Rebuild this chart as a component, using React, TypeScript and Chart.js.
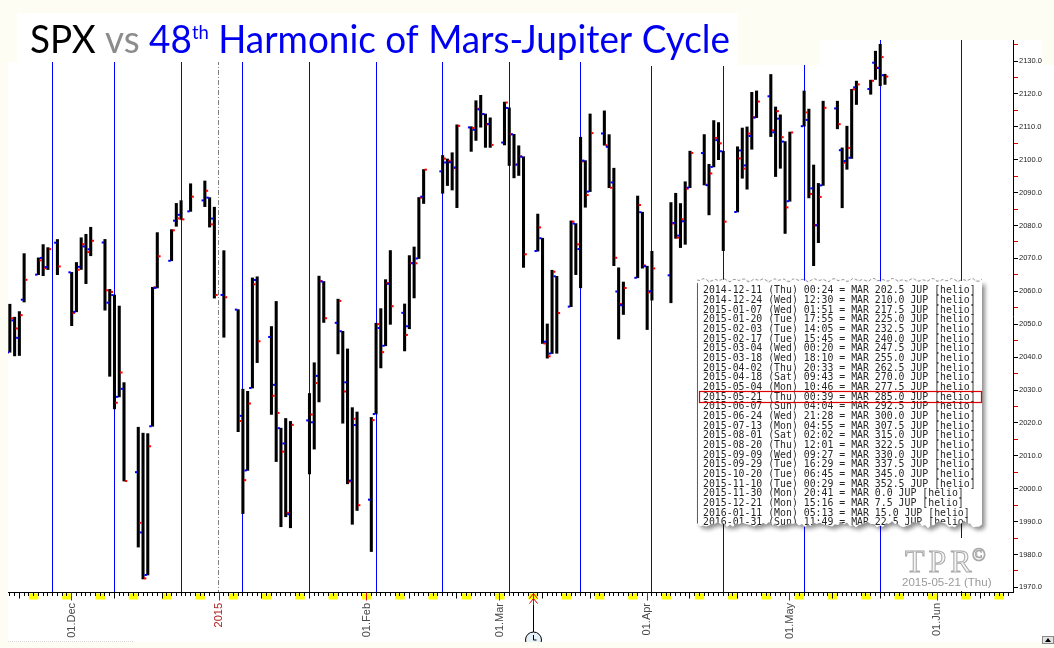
import React, { useEffect, useRef } from 'react';
import { Chart, registerables } from 'chart.js';

Chart.register(...registerables);

// ---------------- data ----------------
const originDate = '2014-12-01';
const xRangeDays = [-13.39, 197.92];
const yRange = [1968.6, 2136.4];
const yStep = 5;

const barDates = [
  '2014-11-17', '2014-11-18', '2014-11-19', '2014-11-20', '2014-11-21', '2014-11-24', '2014-11-25', '2014-11-26', '2014-11-28',
  '2014-12-01', '2014-12-02', '2014-12-03', '2014-12-04', '2014-12-05', '2014-12-08', '2014-12-09', '2014-12-10', '2014-12-11',
  '2014-12-12', '2014-12-15', '2014-12-16', '2014-12-17', '2014-12-18', '2014-12-19', '2014-12-22', '2014-12-23', '2014-12-24',
  '2014-12-26', '2014-12-29', '2014-12-30', '2014-12-31',
  '2015-01-02', '2015-01-05', '2015-01-06', '2015-01-07', '2015-01-08', '2015-01-09', '2015-01-12', '2015-01-13', '2015-01-14',
  '2015-01-15', '2015-01-16', '2015-01-20', '2015-01-21', '2015-01-22', '2015-01-23', '2015-01-26', '2015-01-27', '2015-01-28',
  '2015-01-29', '2015-01-30',
  '2015-02-02', '2015-02-03', '2015-02-04', '2015-02-05', '2015-02-06', '2015-02-09', '2015-02-10', '2015-02-11', '2015-02-12',
  '2015-02-13', '2015-02-17', '2015-02-18', '2015-02-19', '2015-02-20', '2015-02-23', '2015-02-24', '2015-02-25', '2015-02-26',
  '2015-02-27',
  '2015-03-02', '2015-03-03', '2015-03-04', '2015-03-05', '2015-03-06', '2015-03-09', '2015-03-10', '2015-03-11', '2015-03-12',
  '2015-03-13', '2015-03-16', '2015-03-17', '2015-03-18', '2015-03-19', '2015-03-20', '2015-03-23', '2015-03-24', '2015-03-25',
  '2015-03-26', '2015-03-27', '2015-03-30', '2015-03-31',
  '2015-04-01', '2015-04-02', '2015-04-06', '2015-04-07', '2015-04-08', '2015-04-09', '2015-04-10', '2015-04-13', '2015-04-14',
  '2015-04-15', '2015-04-16', '2015-04-17', '2015-04-20', '2015-04-21', '2015-04-22', '2015-04-23', '2015-04-24', '2015-04-27',
  '2015-04-28', '2015-04-29', '2015-04-30',
  '2015-05-01', '2015-05-04', '2015-05-05', '2015-05-06', '2015-05-07', '2015-05-08', '2015-05-11', '2015-05-12', '2015-05-13',
  '2015-05-14', '2015-05-15', '2015-05-18', '2015-05-19', '2015-05-20', '2015-05-21',
];

const opens = [
  2038.29, 2041.48, 2051.16, 2045.87, 2057.46, 2065.07, 2070.15, 2067.36, 2074.78,
  2065.78, 2053.77, 2067.45, 2073.64, 2072.78, 2074.84, 2056.55, 2058.86, 2027.92, 2030.36, 2005.03, 1986.71, 1973.77, 2018.98,
  2061.04, 2069.28, 2081.48, 2083.25, 2084.30, 2087.63, 2088.49, 2082.11,
  2058.90, 2054.44, 2022.15, 2005.55, 2030.61, 2063.45, 2046.13, 2031.58, 2018.40, 2013.75, 1992.25, 2020.76, 2020.19, 2034.30,
  2062.98, 2050.42, 2047.86, 2032.34, 2002.45, 2019.35,
  1996.67, 2022.71, 2048.86, 2043.45, 2062.28, 2053.47, 2049.38, 2068.55, 2069.98, 2088.78, 2096.47, 2099.16, 2099.25, 2097.65,
  2109.83, 2109.10, 2115.30, 2113.91, 2110.88,
  2105.23, 2115.76, 2107.72, 2098.54, 2100.91, 2072.25, 2076.14, 2044.69, 2041.10, 2064.56, 2055.35, 2080.59, 2072.84, 2099.73,
  2090.32, 2107.99, 2103.94, 2093.10, 2059.94, 2055.78, 2064.11, 2084.05,
  2067.63, 2060.03, 2064.87, 2080.79, 2076.94, 2081.29, 2091.51, 2102.03, 2092.28, 2097.82, 2105.96, 2102.58, 2084.11, 2102.82,
  2098.27, 2107.21, 2112.80, 2119.29, 2108.35, 2112.49, 2105.52,
  2087.38, 2110.2, 2112.1, 2091.3, 2080.1, 2092.2, 2115.6, 2102.9, 2099.6, 2100.6, 2122.0, 2121.5, 2129.5, 2127.9, 2125.7,
];

const highs = [
  2043.07, 2056.08, 2052.14, 2053.84, 2071.46, 2070.17, 2074.21, 2073.29, 2075.76,
  2065.78, 2068.77, 2076.28, 2077.34, 2079.47, 2075.78, 2060.60, 2058.86, 2055.53, 2032.25, 2018.69, 2016.89, 2016.75, 2061.23,
  2077.85, 2078.76, 2086.73, 2087.56, 2092.70, 2093.55, 2088.49, 2085.58,
  2072.36, 2054.44, 2030.25, 2029.61, 2064.08, 2064.43, 2049.30, 2056.93, 2018.40, 2021.35, 2020.46, 2028.94, 2038.29, 2064.62,
  2062.98, 2057.62, 2047.86, 2042.49, 2024.64, 2023.32,
  2021.66, 2050.30, 2054.74, 2063.55, 2072.40, 2056.16, 2070.86, 2073.48, 2088.53, 2097.03, 2101.30, 2100.23, 2102.13, 2110.61,
  2110.05, 2117.94, 2119.59, 2113.91, 2112.74,
  2117.52, 2115.76, 2107.72, 2104.25, 2100.91, 2083.49, 2076.14, 2050.08, 2066.41, 2064.56, 2081.41, 2080.59, 2106.85, 2099.73,
  2113.92, 2114.86, 2107.63, 2097.43, 2067.15, 2062.83, 2088.97, 2084.05,
  2067.63, 2072.17, 2086.99, 2089.81, 2086.69, 2093.31, 2102.61, 2107.65, 2098.62, 2111.91, 2111.30, 2102.58, 2103.94, 2109.64,
  2109.98, 2120.49, 2120.92, 2125.92, 2116.04, 2113.65, 2105.52,
  2108.41, 2120.9, 2115.4, 2098.4, 2092.8, 2117.8, 2117.8, 2103.6, 2110.2, 2121.4, 2123.9, 2124.2, 2133.0, 2135.1, 2126.0,
];

const lows = [
  2030.17, 2041.48, 2040.37, 2040.49, 2056.75, 2065.07, 2064.75, 2066.62, 2065.06,
  2049.57, 2053.77, 2066.65, 2062.34, 2070.81, 2054.27, 2034.17, 2024.26, 2027.92, 2002.33, 1982.26, 1972.56, 1973.77, 2018.98,
  2061.03, 2069.28, 2079.77, 2081.86, 2084.30, 2085.75, 2079.53, 2057.94,
  2046.04, 2017.34, 1992.44, 2005.55, 2030.61, 2038.33, 2022.58, 2008.25, 1988.44, 1991.47, 1988.12, 2004.49, 2012.04, 2026.38,
  2050.54, 2040.97, 2019.91, 2001.49, 1989.18, 1993.38,
  1980.90, 2022.71, 2036.72, 2043.45, 2049.97, 2041.88, 2048.62, 2057.99, 2069.98, 2086.70, 2089.80, 2092.15, 2090.79, 2085.44,
  2102.54, 2105.87, 2109.89, 2103.76, 2103.75,
  2104.50, 2098.26, 2094.49, 2095.22, 2067.27, 2072.21, 2044.16, 2039.69, 2041.10, 2041.17, 2055.35, 2065.08, 2061.08, 2085.56,
  2090.32, 2104.42, 2091.50, 2067.8, 2045.50, 2052.96, 2064.11, 2067.04,
  2048.38, 2057.32, 2056.52, 2076.10, 2073.30, 2074.29, 2091.51, 2092.33, 2083.24, 2097.82, 2100.02, 2072.37, 2084.11, 2094.38,
  2091.05, 2103.19, 2112.80, 2107.04, 2094.89, 2097.41, 2077.59,
  2087.38, 2110.2, 2088.4, 2067.8, 2074.8, 2092.2, 2109.4, 2085.4, 2097.1, 2100.4, 2116.8, 2119.9, 2124.4, 2122.5, 2122.9,
];

const closes = [
  2041.32, 2051.80, 2048.72, 2052.75, 2063.50, 2069.41, 2067.03, 2072.83, 2067.56,
  2053.44, 2066.55, 2074.33, 2071.92, 2075.37, 2060.31, 2059.82, 2026.14, 2035.33, 2002.33, 1989.63, 1972.74, 2012.89, 2061.23,
  2070.65, 2078.54, 2082.17, 2081.88, 2088.77, 2090.57, 2080.35, 2058.90,
  2058.20, 2020.58, 2002.61, 2025.90, 2062.14, 2044.81, 2028.26, 2023.03, 2011.27, 1992.67, 2019.42, 2022.55, 2032.12, 2063.15,
  2051.82, 2057.09, 2029.55, 2002.16, 2021.25, 1994.99,
  2020.85, 2050.03, 2041.51, 2062.52, 2055.47, 2046.74, 2068.59, 2068.53, 2088.48, 2096.99, 2100.34, 2099.68, 2097.45, 2110.30,
  2109.66, 2115.48, 2113.86, 2110.74, 2104.50,
  2117.39, 2107.78, 2098.53, 2101.04, 2071.26, 2079.43, 2044.16, 2040.24, 2065.95, 2053.40, 2081.19, 2074.28, 2099.50, 2089.27,
  2108.10, 2104.42, 2091.50, 2070.2, 2056.15, 2061.02, 2086.24, 2067.89,
  2059.69, 2066.96, 2080.62, 2076.33, 2081.90, 2091.18, 2102.06, 2092.43, 2095.84, 2106.63, 2104.99, 2081.18, 2100.40, 2097.29,
  2107.96, 2112.93, 2117.69, 2108.92, 2114.76, 2106.85, 2085.51,
  2108.29, 2114.4, 2089.6, 2080.1, 2088.7, 2115.8, 2110.8, 2099.1, 2103.6, 2121.4, 2122.9, 2124.0, 2128.0, 2131.2, 2125.3,
];

// 48th harmonic Mars-Jupiter dates (vertical blue lines)
const cycleLineDates = [
  '2014-11-27', '2014-12-10', '2014-12-24', '2015-01-06', '2015-01-20', '2015-02-03', '2015-02-17',
  '2015-03-03', '2015-03-18', '2015-04-02', '2015-04-17', '2015-05-04', '2015-05-20', '2015-06-06',
];
const yearStartDate = '2015-01-01';
const dstDate = '2015-03-08';

const monthTickDates = ['2014-12-01', '2015-01-01', '2015-02-01', '2015-03-01', '2015-04-01', '2015-05-01', '2015-06-01'];
const monthTickLabels = ['01.Dec', '2015', '01.Feb', '01.Mar', '01.Apr', '01.May', '01.Jun'];

const tableRows = [
  '2014-12-11 (Thu) 00:24 = MAR 202.5 JUP [helio]',
  '2014-12-24 (Wed) 12:30 = MAR 210.0 JUP [helio]',
  '2015-01-07 (Wed) 01:51 = MAR 217.5 JUP [helio]',
  '2015-01-20 (Tue) 17:55 = MAR 225.0 JUP [helio]',
  '2015-02-03 (Tue) 14:05 = MAR 232.5 JUP [helio]',
  '2015-02-17 (Tue) 15:45 = MAR 240.0 JUP [helio]',
  '2015-03-04 (Wed) 00:20 = MAR 247.5 JUP [helio]',
  '2015-03-18 (Wed) 18:10 = MAR 255.0 JUP [helio]',
  '2015-04-02 (Thu) 20:33 = MAR 262.5 JUP [helio]',
  '2015-04-18 (Sat) 09:43 = MAR 270.0 JUP [helio]',
  '2015-05-04 (Mon) 10:46 = MAR 277.5 JUP [helio]',
  '2015-05-21 (Thu) 00:39 = MAR 285.0 JUP [helio]',
  '2015-06-07 (Sun) 04:04 = MAR 292.5 JUP [helio]',
  '2015-06-24 (Wed) 21:28 = MAR 300.0 JUP [helio]',
  '2015-07-13 (Mon) 04:55 = MAR 307.5 JUP [helio]',
  '2015-08-01 (Sat) 02:02 = MAR 315.0 JUP [helio]',
  '2015-08-20 (Thu) 12:01 = MAR 322.5 JUP [helio]',
  '2015-09-09 (Wed) 09:27 = MAR 330.0 JUP [helio]',
  '2015-09-29 (Tue) 16:29 = MAR 337.5 JUP [helio]',
  '2015-10-20 (Tue) 06:45 = MAR 345.0 JUP [helio]',
  '2015-11-10 (Tue) 00:29 = MAR 352.5 JUP [helio]',
  '2015-11-30 (Mon) 20:41 = MAR 0.0 JUP [helio]',
  '2015-12-21 (Mon) 15:16 = MAR 7.5 JUP [helio]',
  '2016-01-11 (Mon) 05:13 = MAR 15.0 JUP [helio]',
  '2016-01-31 (Sun) 11:49 = MAR 22.5 JUP [helio]',
];
const highlightRowIndex = 11;

const titleParts = [
  { text: 'SPX', color: '#000000', sup: false },
  { text: ' vs ', color: '#8c8c8c', sup: false },
  { text: '48', color: '#0000f0', sup: false },
  { text: 'th', color: '#0000f0', sup: true },
  { text: ' Harmonic of Mars-Jupiter Cycle', color: '#0000f0', sup: false },
];
const stampMark = 'TPR';
const stampText = '2015-05-21 (Thu)';

// ---------------- helpers ----------------
const CREAM = '#fdfdf3';
const MS_DAY = 86400000;
function utcOf(s: string) {
  const [y, m, d] = s.split('-').map(Number);
  return Date.UTC(y, m - 1, d);
}
const ORIGIN = utcOf(originDate);
function dayOf(s: string) {
  return Math.round((utcOf(s) - ORIGIN) / MS_DAY);
}

const ROW_Y0 = 290.8;
const ROW_H = 9.67;

const decorPlugin = {
  id: 'decor',
  beforeDraw(chart: any) {
    const { ctx, chartArea: ca } = chart;
    ctx.save();
    ctx.fillStyle = CREAM;
    ctx.fillRect(0, 0, chart.width, chart.height);
    ctx.fillStyle = '#ffffff';
    ctx.fillRect(ca.left, ca.top, chart.width - ca.left, 642 - ca.top);
    ctx.restore();
  },
  beforeDatasetsDraw(chart: any) {
    const { ctx, chartArea: ca, scales } = chart;
    const x = scales.x;
    ctx.save();
    ctx.beginPath();
    ctx.rect(ca.left, ca.top, ca.right - ca.left, ca.bottom - ca.top);
    ctx.clip();
    ctx.strokeStyle = '#0000ff';
    ctx.lineWidth = 1;
    cycleLineDates.forEach((d) => {
      const px = Math.floor(x.getPixelForValue(dayOf(d))) + 0.5;
      ctx.beginPath();
      ctx.moveTo(px, ca.top);
      ctx.lineTo(px, ca.bottom);
      ctx.stroke();
    });
    const yp = Math.floor(x.getPixelForValue(dayOf(yearStartDate))) - 0.5;
    ctx.strokeStyle = '#808080';
    ctx.setLineDash([5, 2, 1, 2]);
    ctx.beginPath();
    ctx.moveTo(yp, ca.top);
    ctx.lineTo(yp, ca.bottom);
    ctx.stroke();
    ctx.restore();
  },
  afterDatasetsDraw(chart: any) {
    const { ctx, chartArea: ca, scales } = chart;
    const x = scales.x;
    const y = scales.y;

    // open / close ticks
    ctx.save();
    ctx.beginPath();
    ctx.rect(ca.left, ca.top, ca.right - ca.left, ca.bottom - ca.top);
    ctx.clip();
    barDates.forEach((d, i) => {
      const px = x.getPixelForValue(dayOf(d));
      ctx.fillStyle = '#0000ff';
      ctx.fillRect(px - 3.3, y.getPixelForValue(opens[i]) - 1, 2.4, 2);
      ctx.fillStyle = '#ff0000';
      ctx.fillRect(px + 0.9, y.getPixelForValue(closes[i]) - 1, 2.4, 2);
    });
    ctx.restore();

    // header patches
    ctx.save();
    ctx.fillStyle = CREAM;
    ctx.fillRect(ca.left, ca.top, 9, 22);
    ctx.fillRect(738, ca.top, 82, 25);
    ctx.fillRect(1042, ca.top, 12, 25);
    ctx.fillStyle = '#ffffff';
    ctx.fillRect(17, 13, 721, 49);
    ctx.fillRect(600, 40, 138, 26);
    ctx.restore();

    // title
    ctx.save();
    const mainFont = '38px Lato, "Open Sans", sans-serif';
    const supFont = '19px Lato, "Open Sans", sans-serif';
    let total = 0;
    const widths: number[] = [];
    titleParts.forEach((p) => {
      ctx.font = p.sup ? supFont : mainFont;
      const w = ctx.measureText(p.text).width;
      widths.push(w);
      total += w;
    });
    const sx = (731 - 31) / total;
    ctx.translate(30, 0);
    ctx.scale(sx, 1);
    let tx = 0;
    ctx.textBaseline = 'alphabetic';
    titleParts.forEach((p, i) => {
      ctx.font = p.sup ? supFont : mainFont;
      ctx.fillStyle = p.color;
      ctx.fillText(p.text, tx, p.sup ? 38.5 : 52.5);
      tx += widths[i];
    });
    ctx.restore();

    // table (torn paper)
    const L = 697, R = 982, T = 281, B = 524.5;
    const jagTop = (k: number) => 1.2 * Math.sin(k * 1.9) + 0.7 * Math.sin(k * 5.3);
    const jagBot = (k: number) => 2.0 * Math.sin(k * 0.77) + 1.3 * Math.sin(k * 2.9) + 0.8 * Math.sin(k * 7.1);
    const path = () => {
      ctx.beginPath();
      ctx.moveTo(L, T + jagTop(0));
      for (let xx = L, k = 0; xx <= R; xx += 3, k++) ctx.lineTo(xx, T + jagTop(k));
      ctx.lineTo(R, B);
      for (let xx = R, k = 0; xx >= L; xx -= 3, k++) ctx.lineTo(xx, B + jagBot(k));
      ctx.closePath();
    };
    ctx.save();
    path();
    ctx.shadowColor = 'rgba(0,0,0,0.45)';
    ctx.shadowBlur = 4;
    ctx.shadowOffsetX = 3;
    ctx.shadowOffsetY = 3;
    ctx.fillStyle = '#ffffff';
    ctx.fill();
    ctx.shadowColor = 'transparent';
    ctx.clip();
    ctx.font = '9.85px "DejaVu Sans Mono", "Liberation Mono", monospace';
    ctx.textBaseline = 'middle';
    ctx.fillStyle = '#262626';
    tableRows.forEach((row, i) => {
      ctx.fillText(row, 703, ROW_Y0 + i * ROW_H);
    });
    ctx.restore();
    // top scribble and left border
    ctx.save();
    ctx.strokeStyle = '#9a9a9a';
    ctx.lineWidth = 1;
    ctx.setLineDash([3, 2]);
    ctx.beginPath();
    for (let xx = L, k = 0; xx <= R; xx += 3, k++) {
      if (k === 0) ctx.moveTo(xx, T - 1 + jagTop(k));
      else ctx.lineTo(xx, T - 1 + jagTop(k));
    }
    ctx.stroke();
    ctx.setLineDash([]);
    ctx.strokeStyle = '#606060';
    ctx.beginPath();
    ctx.moveTo(L + 0.5, T + 2);
    ctx.lineTo(L + 0.5, B - 1);
    ctx.stroke();
    // highlight box
    const hy = ROW_Y0 + highlightRowIndex * ROW_H;
    ctx.strokeStyle = '#dd0000';
    ctx.lineWidth = 1.2;
    ctx.strokeRect(699.5, Math.round(hy - 6) + 0.5, 282, 11);
    ctx.restore();

    // watermark
    ctx.save();
    ctx.fillStyle = '#ffffff';
    ctx.fillRect(893, 538, 110, 53);
    ctx.font = '32px "Liberation Serif", serif';
    (ctx as any).letterSpacing = '4px';
    ctx.textBaseline = 'alphabetic';
    ctx.fillStyle = '#f6f6f6';
    ctx.strokeStyle = '#a8a8a8';
    ctx.lineWidth = 1;
    ctx.fillText(stampMark, 905, 572);
    ctx.strokeText(stampMark, 905, 572);
    (ctx as any).letterSpacing = '0px';
    ctx.font = '18px "Liberation Serif", serif';
    ctx.fillText('\u00A9', 972, 561);
    ctx.strokeText('\u00A9', 972, 561);
    ctx.font = '11.5px "Liberation Sans", Arial, sans-serif';
    ctx.fillStyle = '#9a9a9a';
    ctx.fillText(stampText, 902, 586);
    ctx.restore();

    // x axis
    ctx.save();
    const y0 = ca.bottom + 0.5;
    const dStart = Math.ceil(x.min);
    const dEnd = Math.floor(x.max);
    ctx.fillStyle = '#ffff00';
    for (let d = dStart - 2; d <= dEnd; d++) {
      const dt = new Date(ORIGIN + d * MS_DAY);
      if (dt.getUTCDay() === 6) {
        const a = Math.max(x.getPixelForValue(d), ca.left);
        const b = Math.min(x.getPixelForValue(d + 2), ca.right);
        if (b > a) ctx.fillRect(a, y0 + 1, b - a, 6);
      }
    }
    ctx.strokeStyle = '#000';
    ctx.lineWidth = 1;
    ctx.beginPath();
    ctx.moveTo(ca.left, y0);
    ctx.lineTo(ca.right, y0);
    ctx.stroke();
    for (let d = dStart; d <= dEnd; d++) {
      const dt = new Date(ORIGIN + d * MS_DAY);
      const dom = dt.getUTCDate();
      const px = Math.floor(x.getPixelForValue(d)) + 0.5;
      const len = dom === 1 ? 8 : dom === 10 || dom === 20 ? 6 : 3.5;
      ctx.strokeStyle = dom === 1 ? '#e00000' : '#000';
      ctx.beginPath();
      ctx.moveTo(px, y0);
      ctx.lineTo(px, y0 + len);
      ctx.stroke();
    }
    ctx.font = '11px "Liberation Sans", Arial, sans-serif';
    ctx.textAlign = 'right';
    ctx.textBaseline = 'middle';
    monthTickDates.forEach((d, i) => {
      const px = x.getPixelForValue(dayOf(d));
      ctx.save();
      ctx.translate(px, 603);
      ctx.rotate(-Math.PI / 2);
      ctx.fillStyle = monthTickLabels[i] === '2015' ? '#b02020' : '#4a4a4a';
      ctx.fillText(monthTickLabels[i], 0, 0);
      ctx.restore();
    });

    // DST marker
    const mx = Math.floor(x.getPixelForValue(dayOf(dstDate))) + 0.5;
    ctx.strokeStyle = '#e00000';
    ctx.lineWidth = 1;
    ctx.beginPath();
    ctx.moveTo(mx, y0);
    ctx.lineTo(mx, y0 + 12);
    ctx.moveTo(mx - 4, y0 + 6);
    ctx.lineTo(mx, y0 + 1);
    ctx.lineTo(mx + 4, y0 + 6);
    ctx.moveTo(mx - 4, y0 + 11);
    ctx.lineTo(mx, y0 + 6);
    ctx.lineTo(mx + 4, y0 + 11);
    ctx.stroke();
    ctx.strokeStyle = '#000';
    ctx.beginPath();
    ctx.moveTo(mx, y0 + 12);
    ctx.lineTo(mx, 632);
    ctx.stroke();
    ctx.beginPath();
    ctx.arc(mx, 640, 8, 0, Math.PI * 2);
    ctx.fillStyle = '#e6f2fa';
    ctx.fill();
    ctx.stroke();
    ctx.beginPath();
    ctx.moveTo(mx, 635);
    ctx.lineTo(mx, 640);
    ctx.lineTo(mx + 3, 640);
    ctx.stroke();

    // faint dotted line bottom-left
    ctx.strokeStyle = '#d8d8d8';
    ctx.setLineDash([1, 1]);
    ctx.beginPath();
    ctx.moveTo(ca.left, 641.5);
    ctx.lineTo(133, 641.5);
    ctx.stroke();
    ctx.setLineDash([]);

    // bottom cream band
    ctx.fillStyle = CREAM;
    ctx.fillRect(0, 642, chart.width, chart.height - 642);

    // small corner button
    ctx.fillStyle = '#e4e4e4';
    ctx.fillRect(1042, 636, 12, 8);
    ctx.strokeStyle = '#8a8a8a';
    ctx.strokeRect(1042.5, 636.5, 11, 7);
    ctx.fillStyle = '#000';
    ctx.beginPath();
    ctx.moveTo(1045, 642);
    ctx.lineTo(1048, 638);
    ctx.lineTo(1051, 642);
    ctx.closePath();
    ctx.fill();
    ctx.restore();
  },
};

export default function App() {
  const ref = useRef<HTMLCanvasElement>(null);
  useEffect(() => {
    const canvas = ref.current;
    if (!canvas) return;
    const points = barDates.map((d, i) => ({ x: dayOf(d), y: [lows[i], highs[i]] }));
    const chart = new Chart(canvas, {
      type: 'bar',
      data: {
        datasets: [
          {
            data: points as any,
            backgroundColor: '#000000',
            borderWidth: 0,
            barThickness: 2.4,
            clip: 0,
          } as any,
        ],
      },
      options: {
        animation: false,
        responsive: false,
        maintainAspectRatio: false,
        events: [],
        layout: { padding: { left: 8, top: 40, bottom: 56, right: 0 } },
        plugins: {
          legend: { display: false },
          tooltip: { enabled: false },
          title: { display: false },
        },
        scales: {
          x: {
            type: 'linear',
            min: xRangeDays[0],
            max: xRangeDays[1],
            offset: false,
            display: false,
          },
          y: {
            type: 'linear',
            position: 'right',
            min: yRange[0],
            max: yRange[1],
            afterFit: (s: any) => {
              s.width = 41;
            },
            border: { display: true, color: '#000000', width: 1 },
            grid: {
              drawOnChartArea: false,
              drawTicks: true,
              tickLength: 5,
              lineWidth: 1,
              color: (c: any) => (c.tick && Math.round(c.tick.value) % 10 === 0 ? '#000000' : '#dd0000'),
            },
            ticks: {
              stepSize: yStep,
              includeBounds: false,
              autoSkip: false,
              padding: 1,
              color: '#1a1a1a',
              font: { family: '"Liberation Sans", Arial, sans-serif', size: 7.5 },
              callback: (v: any) => (Math.round(Number(v)) % 10 === 0 ? Number(v).toFixed(1) : ''),
            },
          },
        },
      } as any,
      plugins: [decorPlugin],
    });
    return () => chart.destroy();
  }, []);
  return (
    <div style={{ position: 'fixed', left: 0, top: 0, width: 1054, height: 648, background: CREAM }}>
      <canvas ref={ref} width={1054} height={648} style={{ display: 'block', width: 1054, height: 648 }} />
    </div>
  );
}
